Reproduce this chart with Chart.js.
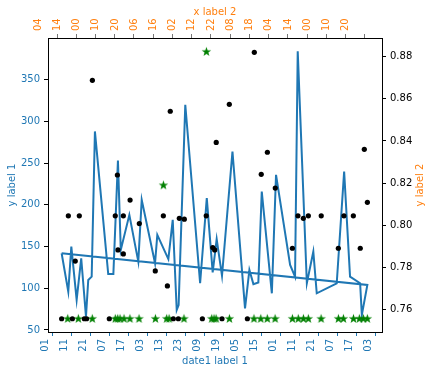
<!DOCTYPE html>
<html>
<head>
<meta charset="utf-8">
<script src="https://cdn.jsdelivr.net/npm/chart.js@4.4.1/dist/chart.umd.min.js"></script>
<style>
  html, body { margin: 0; padding: 0; background: #fff; }
  canvas { display: block; }
</style>
</head>
<body>
<canvas id="chart" width="432" height="373"></canvas>
<script>
// blue line, bottom / left axes (hours after the first bottom tick)
const lineHours = [4.9, 8.4, 10.0, 12.8, 15.2, 17.7, 18.9, 20.7, 22.4, 29.4, 32.1, 34.5, 36.0, 40.5,
  45.2, 47.0, 54.0, 55.2, 61.0, 63.3, 65.4, 66.4, 69.9, 77.7, 81.2, 84.3, 86.4, 89.2, 94.7,
  101.3, 103.6, 105.7, 108.3, 110.1, 115.4, 117.6, 125.0, 127.6, 129.0, 133.8, 137.2, 139.0,
  149.5, 153.4, 156.5, 161.8, 162.7, 165.6, 4.9];
const lineValues = [142, 96, 150, 86, 136, 66, 110, 114, 288, 117, 117, 253, 146, 188,
  132, 206, 130, 164, 135, 182, 74, 80, 320, 106, 208, 119, 159, 115, 264,
  76, 122, 105, 107, 216, 94, 236, 128, 114, 384, 106, 144, 94,
  106, 240, 114, 106, 68, 104, 142];

// green stars, bottom / left axes
const starHours = [8.1, 13.7, 21.0, 33.1, 34.4, 35.6, 37.7, 40.8, 45.6, 54.2, 58.4, 60.1, 61.4,
  69.2, 81.0, 83.8, 85.0, 86.1, 93.1, 106.0, 109.6, 113.0, 117.1, 126.2, 129.3, 132.0, 134.6,
  141.3, 150.4, 153.0, 158.3, 161.4, 163.5, 165.6];
const starValues = [64, 64, 64, 64, 64, 64, 64, 64, 64, 64, 224, 64, 64,
  64, 384, 64, 64, 64, 64, 64, 64, 64, 64, 64, 64, 64, 64,
  64, 64, 64, 64, 64, 64, 64];

// black dots, top / right axes (hours after the first top tick)
const dotHours = [2.4, 5.9, 8.0, 9.5, 11.6, 14.2, 15.4, 18.4, 27.2, 30.3, 31.4, 31.7, 34.5, 34.5,
  38.0, 42.8, 51.1, 55.3, 57.4, 58.9, 60.5, 63.1, 63.6, 66.2, 75.6, 77.6, 81.0, 82.0, 82.8,
  85.8, 89.6, 99.0, 102.6, 106.2, 109.4, 113.5, 122.4, 125.3, 128.1, 130.7, 137.4, 146.3,
  149.2, 154.1, 157.7, 159.8, 161.4];
const dotValues = [0.7555, 0.8044, 0.7555, 0.7829, 0.8044, 0.7555, 0.7555, 0.8688, 0.7555, 0.8044,
  0.8238, 0.7882, 0.8044, 0.7863, 0.8119, 0.8007, 0.7782, 0.8044, 0.7711, 0.8541, 0.7555,
  0.7555, 0.8032, 0.8028, 0.7555, 0.8044, 0.7893, 0.7882, 0.8393, 0.7555, 0.8574, 0.7555,
  0.8821, 0.8241, 0.8346, 0.8176, 0.7890, 0.8044, 0.8032, 0.8044, 0.8044, 0.7890, 0.8044,
  0.8044, 0.7890, 0.8360, 0.8108];

// tick positions and labels
const bottomTickHours = [0, 10, 20, 30, 40, 50, 60, 70, 80, 90, 100, 110, 120, 130, 140, 150, 160, 170];
const bottomTickLabels = ['01', '11', '21', '07', '17', '03', '13', '23', '09', '19', '05', '15',
  '01', '11', '21', '07', '17', '03'];
const topTickHours = [0, 10, 20, 30, 40, 50, 60, 70, 80, 90, 100, 110, 120, 130, 140, 150, 160];
const topTickLabels = ['04', '14', '00', '10', '20', '06', '16', '02', '12', '22', '08', '18',
  '04', '14', '00', '10', '20'];
const leftTicks = [50, 100, 150, 200, 250, 300, 350];
const rightTicks = [0.76, 0.78, 0.80, 0.82, 0.84, 0.86, 0.88];

const BLUE = '#1f77b4';
const ORANGE = '#ff7f0e';

Chart.defaults.font.family = 'DejaVu Sans';
Chart.defaults.font.size = 10;

function toPoints(xs, ys) {
  return xs.map((x, i) => ({ x: x, y: ys[i] }));
}

function fixedTicks(values) {
  return scale => { scale.ticks = values.map(v => ({ value: v })); };
}

// filled five point star like matplotlib's '*'
function makeStar(color) {
  const c = document.createElement('canvas');
  c.width = 11;
  c.height = 11;
  const g = c.getContext('2d');
  g.fillStyle = color;
  g.beginPath();
  for (let i = 0; i < 10; i++) {
    const r = i % 2 === 0 ? 5 : 2;
    const a = -Math.PI / 2 + i * Math.PI / 5;
    const px = 5.5 + r * Math.cos(a);
    const py = 6 + r * Math.sin(a);
    if (i === 0) g.moveTo(px, py); else g.lineTo(px, py);
  }
  g.closePath();
  g.fill();
  return c;
}

// right axis title reads bottom to top, chart.js would turn it the other way
const rightTitle = {
  id: 'rightTitle',
  afterDraw(chart) {
    const ctx = chart.ctx;
    const area = chart.chartArea;
    ctx.save();
    ctx.translate(420, (area.top + area.bottom) / 2);
    ctx.rotate(-Math.PI / 2);
    ctx.fillStyle = ORANGE;
    ctx.font = '10px "DejaVu Sans"';
    ctx.textAlign = 'center';
    ctx.textBaseline = 'middle';
    ctx.fillText('y label 2', 0, 0);
    ctx.restore();
  }
};

new Chart(document.getElementById('chart'), {
  type: 'scatter',
  data: {
    datasets: [
      {
        data: toPoints(dotHours, dotValues),
        xAxisID: 'x2',
        yAxisID: 'y2',
        pointRadius: 2.6,
        pointBackgroundColor: '#000',
        pointBorderWidth: 0,
        order: 0
      },
      {
        data: toPoints(starHours, starValues),
        pointStyle: makeStar('#008000'),
        order: 1
      },
      {
        data: toPoints(lineHours, lineValues),
        showLine: true,
        borderColor: BLUE,
        borderWidth: 2,
        pointRadius: 0,
        tension: 0,
        order: 2
      }
    ]
  },
  options: {
    responsive: false,
    animation: false,
    events: [],
    layout: { padding: 0 },
    plugins: { legend: { display: false }, tooltip: { enabled: false } },
    scales: {
      x: {
        type: 'linear',
        position: 'bottom',
        bounds: 'data',
        min: -2.26,
        max: 173.3,
        afterBuildTicks: fixedTicks(bottomTickHours),
        afterFit: s => { s.height = 41; },
        border: { color: '#000' },
        grid: { drawOnChartArea: false, tickLength: 4, tickColor: BLUE },
        ticks: {
          color: BLUE, autoSkip: false, minRotation: 90, maxRotation: 90, padding: 3, labelOffset: -7,
          callback: (v, i) => bottomTickLabels[i]
        },
        title: { display: true, text: 'date1 label 1', color: BLUE, padding: { top: 0, bottom: 6 } }
      },
      x2: {
        type: 'linear',
        position: 'top',
        bounds: 'data',
        min: -4.68,
        max: 169.0,
        afterBuildTicks: fixedTicks(topTickHours),
        afterFit: s => { s.height = 38; },
        border: { color: '#000' },
        grid: { drawOnChartArea: false, tickLength: 4, tickColor: '#777' },
        ticks: {
          color: ORANGE, autoSkip: false, minRotation: 90, maxRotation: 90, padding: 3, labelOffset: -7,
          callback: (v, i) => topTickLabels[i]
        },
        title: { display: true, text: 'x label 2', color: ORANGE, padding: { top: 6, bottom: 0 } }
      },
      y: {
        type: 'linear',
        position: 'left',
        bounds: 'data',
        min: 47.6,
        max: 400,
        afterBuildTicks: fixedTicks(leftTicks),
        afterFit: s => { s.width = 48; },
        border: { color: '#000' },
        grid: { drawOnChartArea: false, tickLength: 4, tickColor: '#000' },
        ticks: { color: BLUE, padding: 4 },
        title: { display: true, text: 'y label 1', color: BLUE, padding: { top: 6, bottom: 0 } }
      },
      y2: {
        type: 'linear',
        position: 'right',
        bounds: 'data',
        min: 0.7492,
        max: 0.8889,
        afterBuildTicks: fixedTicks(rightTicks),
        afterFit: s => { s.width = 50; },
        border: { color: '#000' },
        grid: { drawOnChartArea: false, tickLength: 4, tickColor: '#000' },
        ticks: { color: '#000', padding: 4, callback: v => v.toFixed(2) }
      }
    }
  },
  plugins: [rightTitle]
});
</script>
</body>
</html>
